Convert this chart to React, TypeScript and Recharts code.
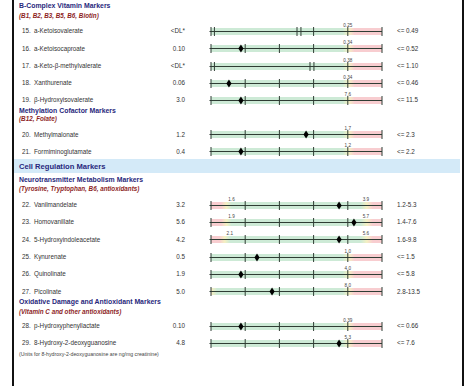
import React from "react";
import { ComposedChart, Bar, XAxis, YAxis, ReferenceLine, Scatter } from "recharts";

// marker rows 15-29
const markerNums = [15, 16, 17, 18, 19, 20, 21, 22, 23, 24, 25, 26, 27, 28, 29];
const markerNames = [
  "a-Ketoisovalerate",
  "a-Ketoisocaproate",
  "a-Keto-β-methylvalerate",
  "Xanthurenate",
  "β-Hydroxyisovalerate",
  "Methylmalonate",
  "Formiminoglutamate",
  "Vanilmandelate",
  "Homovanillate",
  "5-Hydroxyindoleacetate",
  "Kynurenate",
  "Quinolinate",
  "Picolinate",
  "p-Hydroxyphenyllactate",
  "8-Hydroxy-2-deoxyguanosine",
];
const results = ["<DL*", "0.10", "<DL*", "0.06", "3.0", "1.2", "0.4", "3.2", "5.6", "4.2", "0.5", "1.9", "5.0", "0.10", "4.8"];
const refRanges = ["<= 0.49", "<= 0.52", "<= 1.10", "<= 0.46", "<= 11.5", "<= 2.3", "<= 2.2", "1.2-5.3", "1.4-7.6", "1.6-9.8", "<= 1.5", "<= 5.8", "2.8-13.5", "<= 0.66", "<= 7.6"];

// positions along the 0-100 quintile scale
const markerPos: (number | null)[] = [null, 17.5, null, 10.5, 17.5, 55.6, 17.5, 74.9, 83.6, 74.9, 26.9, 17.5, 35.7, 17.5, 74.9];
const highCut = [80, 80, 80, 80, 80, 80, 80, 90.6, 90.6, 90.6, 80, 80, 80, 80, 80];
const highLabels = ["0.25", "0.34", "0.38", "0.34", "7.6", "1.7", "1.2", "3.9", "5.7", "5.6", "1.0", "4.0", "8.0", "0.39", "5.3"];
const lowCut: (number | null)[] = [null, null, null, null, null, null, null, 12, 12, 11, null, null, 3.5, null, null];
const lowLabels = ["", "", "", "", "", "", "", "1.6", "1.9", "2.1", "", "", "", "", ""];
const stdTicks = [0, 20, 40, 60, 80, 100];
const tickSets = [
  [0, 2, 50.3, 52.6, 60, 80, 100],
  stdTicks,
  [0, 2, 57.9, 60.2, 80, 100],
  stdTicks, stdTicks, stdTicks, stdTicks, stdTicks, stdTicks,
  stdTicks, stdTicks, stdTicks, stdTicks, stdTicks, stdTicks,
];

// layout (vertical centres of each row)
const rowY = [31, 48.5, 66, 83, 100, 134.5, 151.5, 205, 222, 239.5, 257, 274, 291.5, 326, 343];

const FONT = "Arial, 'Liberation Sans', Helvetica, sans-serif";
const GREEN = "#cdeAd6";
const YELLOW = "#f4f0c2";
const RED = "#f8cdd0";
const LINE = "#2f3d34";

function BandShape(props: any) {
  const { x, y, width, height, fill } = props;
  return (
    <g>
      <rect x={x} y={y} width={width} height={height} fill={fill} />
      <line x1={x - 1.5} x2={x + width} y1={y + height / 2} y2={y + height / 2} stroke={LINE} strokeWidth={1} />
    </g>
  );
}

function Diamond(props: any) {
  const { cx, cy } = props;
  return <polygon points={`${cx},${cy - 4} ${cx + 2.6},${cy} ${cx},${cy + 4} ${cx - 2.6},${cy}`} fill="#000" />;
}

function RangeBar({ i }: { i: number }) {
  const data = [{ name: markerNames[i], band: 100, pos: markerPos[i] }];
  const lo = lowCut[i];
  const hi = highCut[i];
  const id = `grad${i}`;
  const labelStyle = { position: "top", fontSize: 4.6, fill: "#444", offset: 0, fontFamily: FONT };
  return (
    <ComposedChart
      width={190}
      height={19}
      data={data}
      layout="vertical"
      margin={{ top: 8, right: 9, bottom: 2, left: 10 }}
    >
      <defs>
        <linearGradient id={id} x1="0" y1="0" x2="1" y2="0">
          {lo !== null ? (
            <>
              <stop offset={`${Math.max(lo - 6, 0)}%`} stopColor={RED} />
              <stop offset={`${lo - 3}%`} stopColor={YELLOW} />
              <stop offset={`${lo}%`} stopColor={GREEN} />
            </>
          ) : (
            <stop offset="0%" stopColor={GREEN} />
          )}
          <stop offset={`${hi - 3}%`} stopColor={GREEN} />
          <stop offset={`${hi + 0.5}%`} stopColor={YELLOW} />
          <stop offset={`${hi + 4}%`} stopColor={RED} />
          <stop offset="100%" stopColor={RED} />
        </linearGradient>
      </defs>
      <XAxis type="number" domain={[0, 100]} hide />
      <YAxis type="category" dataKey="name" hide />
      <Bar dataKey="band" barSize={7} fill={`url(#${id})`} shape={BandShape} isAnimationActive={false} />
      {tickSets[i].map((t) => (
        <ReferenceLine key={t} x={t} stroke={LINE} strokeWidth={1} />
      ))}
      <ReferenceLine x={hi} stroke="none" label={{ value: highLabels[i], ...labelStyle } as any} />
      {lo !== null && lowLabels[i] !== "" && (
        <ReferenceLine x={lo} stroke="none" label={{ value: lowLabels[i], ...labelStyle } as any} />
      )}
      {markerPos[i] !== null && <Scatter dataKey="pos" shape={Diamond} isAnimationActive={false} />}
    </ComposedChart>
  );
}

function Txt({ x, y, children, style, right }: any) {
  return (
    <div
      style={{
        position: "absolute",
        left: x,
        top: y,
        transform: right ? "translate(-100%, -50%)" : "translateY(-50%)",
        lineHeight: 1,
        whiteSpace: "nowrap",
        fontFamily: FONT,
        ...style,
      }}
    >
      {children}
    </div>
  );
}

const header = { fontSize: 6.9, fontWeight: 700, color: "#28287c" };
const sub = { fontSize: 6.3, fontWeight: 700, fontStyle: "italic", color: "#8e1f1f" };
const rowTxt = { fontSize: 6.3, color: "#333" };

export default function App() {
  return (
    <div style={{ position: "absolute", left: 0, top: 0, width: 474, height: 386, background: "#fff", overflow: "hidden" }}>
      <div style={{ position: "absolute", left: 12, top: 0, width: 2, height: 386, background: "#111" }} />
      <div style={{ position: "absolute", left: 462, top: 0, width: 2, height: 386, background: "#111" }} />
      <div style={{ position: "absolute", left: 14, top: 159, width: 446, height: 14, background: "#d4eaf8" }} />

      <Txt x={19} y={6} style={header}>B-Complex Vitamin Markers</Txt>
      <Txt x={19} y={16} style={sub}>(B1, B2, B3, B5, B6, Biotin)</Txt>
      <Txt x={19} y={111} style={header}>Methylation Cofactor Markers</Txt>
      <Txt x={19} y={118.5} style={sub}>(B12, Folate)</Txt>
      <Txt x={19} y={166.5} style={{ ...header, fontSize: 7.6 }}>Cell Regulation Markers</Txt>
      <Txt x={19} y={180} style={header}>Neurotransmitter Metabolism Markers</Txt>
      <Txt x={19} y={189} style={sub}>(Tyrosine, Tryptophan, B6, antioxidants)</Txt>
      <Txt x={19} y={302} style={header}>Oxidative Damage and Antioxidant Markers</Txt>
      <Txt x={19} y={312} style={sub}>(Vitamin C and other antioxidants)</Txt>
      <Txt x={19} y={355} style={{ fontSize: 5.2, color: "#444" }}>
        (Units for 8-hydroxy-2-deoxyguanosine are ng/mg creatinine)
      </Txt>

      {markerNames.map((name, i) => (
        <React.Fragment key={name}>
          <Txt x={22} y={rowY[i]} style={rowTxt}>{markerNums[i]}.</Txt>
          <Txt x={34} y={rowY[i]} style={rowTxt}>{name}</Txt>
          <Txt x={185} y={rowY[i]} right style={rowTxt}>{results[i]}</Txt>
          <Txt x={397} y={rowY[i]} style={rowTxt}>{refRanges[i]}</Txt>
          <div style={{ position: "absolute", left: 201, top: rowY[i] - 12.5 }}>
            <RangeBar i={i} />
          </div>
        </React.Fragment>
      ))}
    </div>
  );
}
